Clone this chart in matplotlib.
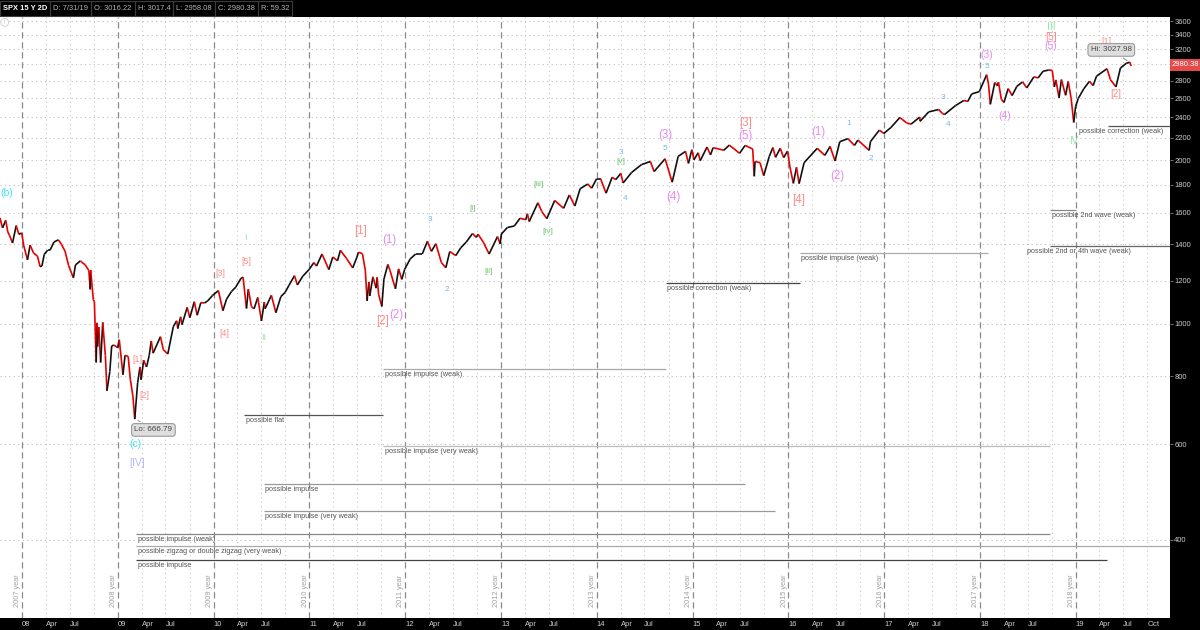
import numpy as np
import pandas as pd
import matplotlib
matplotlib.use("Agg")
import matplotlib.pyplot as plt
import matplotlib.dates as mdates
from matplotlib.collections import LineCollection
from matplotlib.patches import Rectangle
from matplotlib.ticker import NullLocator

plt.rcParams['font.family'] = ['Liberation Sans', 'DejaVu Sans']

# --- SPX swing points (2-day bars, extremes kept) ---
dates = [
    # 2007
    "2007-10-01", "2007-10-09", "2007-10-19", "2007-10-31", "2007-11-08", "2007-11-15", "2007-11-26",
    "2007-12-10", "2007-12-20", "2007-12-31",
    # 2008
    "2008-01-08", "2008-01-22", "2008-02-01", "2008-02-14", "2008-02-29", "2008-03-10", "2008-03-17",
    "2008-03-26", "2008-04-08", "2008-04-17", "2008-05-02", "2008-05-19", "2008-05-30", "2008-06-13",
    "2008-06-27", "2008-07-15", "2008-07-23", "2008-08-11", "2008-08-15", "2008-08-29", "2008-09-12",
    "2008-09-17", "2008-09-19", "2008-09-29", "2008-10-03", "2008-10-10", "2008-10-13", "2008-10-15",
    "2008-10-20", "2008-10-27", "2008-11-04", "2008-11-14", "2008-11-20", "2008-12-01", "2008-12-08",
    "2008-12-16", "2008-12-31",
    # 2009
    "2009-01-06", "2009-01-20", "2009-01-28", "2009-02-09", "2009-02-17", "2009-02-27", "2009-03-06",
    "2009-03-17", "2009-03-26", "2009-03-30", "2009-04-09", "2009-04-20", "2009-04-30", "2009-05-08",
    "2009-05-15", "2009-06-12", "2009-06-23", "2009-07-10", "2009-07-31", "2009-08-13", "2009-08-17",
    "2009-08-28", "2009-09-02", "2009-09-22", "2009-10-02", "2009-10-19", "2009-10-30", "2009-11-13",
    "2009-11-27", "2009-12-10", "2009-12-28",
    # 2010
    "2010-01-19", "2010-02-05", "2010-02-19", "2010-03-10", "2010-03-26", "2010-04-15", "2010-04-23",
    "2010-05-06", "2010-05-13", "2010-05-25", "2010-06-04", "2010-06-18", "2010-07-02", "2010-07-13",
    "2010-07-16", "2010-08-09", "2010-08-26", "2010-09-14", "2010-09-30", "2010-10-15", "2010-11-05",
    "2010-11-16", "2010-12-07", "2010-12-31",
    # 2011
    "2011-01-18", "2011-01-28", "2011-02-18", "2011-03-16", "2011-03-31", "2011-04-18", "2011-04-29",
    "2011-05-23", "2011-06-15", "2011-06-30", "2011-07-07", "2011-07-22", "2011-08-02", "2011-08-08",
    "2011-08-09", "2011-08-10", "2011-08-16", "2011-08-19", "2011-08-31", "2011-09-12", "2011-09-16",
    "2011-09-22", "2011-10-04", "2011-10-12", "2011-10-27", "2011-11-04", "2011-11-25", "2011-12-07",
    "2011-12-19", "2011-12-30",
    # 2012
    "2012-01-20", "2012-02-10", "2012-03-06", "2012-03-26", "2012-04-10", "2012-04-27", "2012-05-18",
    "2012-06-04", "2012-06-19", "2012-07-12", "2012-07-31", "2012-08-21", "2012-09-14", "2012-09-28",
    "2012-10-05", "2012-10-25", "2012-11-16", "2012-12-18", "2012-12-28",
    # 2013
    "2013-01-02", "2013-01-25", "2013-02-20", "2013-03-14", "2013-04-05", "2013-04-11", "2013-04-18",
    "2013-05-21", "2013-06-05", "2013-06-24", "2013-07-24", "2013-08-27", "2013-09-18", "2013-10-09",
    "2013-10-29", "2013-11-27", "2013-12-12", "2013-12-31",
    # 2014
    "2014-01-15", "2014-02-05", "2014-02-28", "2014-03-14", "2014-04-02", "2014-04-11", "2014-05-13",
    "2014-06-20", "2014-07-24", "2014-08-07", "2014-09-18", "2014-10-15", "2014-11-07", "2014-12-05",
    "2014-12-16", "2014-12-29",
    # 2015
    "2015-01-06", "2015-01-22", "2015-01-30", "2015-02-25", "2015-03-10", "2015-03-20", "2015-04-30",
    "2015-05-21", "2015-06-29", "2015-07-20", "2015-08-18", "2015-08-24", "2015-08-27", "2015-09-15",
    "2015-09-29", "2015-10-20", "2015-11-03", "2015-11-13", "2015-12-01", "2015-12-14", "2015-12-29",
    # 2016
    "2016-01-07", "2016-01-20", "2016-02-01", "2016-02-11", "2016-03-01", "2016-04-20", "2016-05-19",
    "2016-06-08", "2016-06-27", "2016-07-15", "2016-08-15", "2016-09-09", "2016-09-22", "2016-11-04",
    "2016-11-09", "2016-12-13", "2016-12-30",
    # 2017
    "2017-01-26", "2017-03-01", "2017-03-27", "2017-04-13", "2017-05-16", "2017-05-17", "2017-06-19",
    "2017-07-27", "2017-08-10", "2017-08-18", "2017-09-29", "2017-10-31", "2017-11-15", "2017-11-30",
    "2017-12-29",
    # 2018
    "2018-01-26", "2018-02-02", "2018-02-09", "2018-02-26", "2018-03-08", "2018-03-12", "2018-03-23",
    "2018-04-02", "2018-04-18", "2018-05-03", "2018-05-21", "2018-06-12", "2018-06-28", "2018-07-25",
    "2018-08-10", "2018-08-29", "2018-09-20", "2018-10-03", "2018-10-11", "2018-10-17", "2018-10-29",
    "2018-11-07", "2018-11-23", "2018-12-03", "2018-12-14", "2018-12-24", "2018-12-31",
    # 2019
    "2019-01-10", "2019-01-31", "2019-02-22", "2019-03-08", "2019-03-21", "2019-04-30", "2019-05-13",
    "2019-06-03", "2019-06-20", "2019-07-12", "2019-07-26", "2019-07-31",
]
prices = [
    # 2007
    1547, 1565, 1500, 1549, 1475, 1451, 1407, 1515, 1460, 1468,
    # 2008
    1390, 1310, 1395, 1349, 1331, 1273, 1276, 1341, 1365, 1365, 1413, 1426, 1400, 1360,
    1278, 1214, 1282, 1305, 1298, 1283, 1252, 1156, 1255, 1106, 1099, 848, 1003, 907,
    985, 848, 1005, 873, 752, 816, 909, 913, 903,
    # 2009
    934, 805, 874, 870, 790, 735, 667, 778, 832, 788, 856, 832, 873, 929,
    882, 946, 895, 879, 987, 1012, 979, 1029, 995, 1071, 1025, 1097, 1036, 1093,
    1091, 1102, 1127,
    # 2010
    1150, 1056, 1109, 1146, 1167, 1211, 1217, 1066, 1157, 1074, 1065, 1117, 1011, 1095,
    1065, 1127, 1047, 1121, 1141, 1176, 1225, 1178, 1223, 1258,
    # 2011
    1295, 1276, 1343, 1257, 1326, 1305, 1364, 1317, 1266, 1321, 1353, 1345, 1254, 1119,
    1101, 1121, 1193, 1124, 1219, 1162, 1216, 1130, 1075, 1207, 1285, 1253, 1159, 1261,
    1206, 1258,
    # 2012
    1315, 1343, 1343, 1417, 1358, 1403, 1295, 1267, 1357, 1334, 1379, 1413, 1465, 1441,
    1460, 1412, 1343, 1446, 1402,
    # 2013
    1462, 1503, 1512, 1563, 1553, 1593, 1541, 1669, 1608, 1560, 1685, 1630, 1725, 1646,
    1771, 1807, 1775, 1848,
    # 2014
    1848, 1738, 1859, 1841, 1890, 1815, 1897, 1962, 1988, 1905, 2011, 1821, 2032, 2075,
    1972, 2090,
    # 2015
    2002, 2063, 1995, 2114, 2044, 2108, 2085, 2131, 2058, 2128, 2096, 1867, 1988, 1978,
    1872, 2030, 2109, 2023, 2102, 2021, 2078,
    # 2016
    1943, 1812, 1939, 1810, 1978, 2102, 2040, 2119, 1992, 2162, 2190, 2128, 2177, 2084,
    2163, 2271, 2239,
    # 2017
    2296, 2395, 2341, 2329, 2400, 2357, 2453, 2478, 2438, 2425, 2519, 2575, 2564, 2647,
    2673,
    # 2018
    2872, 2762, 2533, 2779, 2738, 2783, 2588, 2553, 2708, 2629, 2733, 2786, 2716, 2846,
    2833, 2914, 2930, 2925, 2728, 2809, 2604, 2813, 2632, 2790, 2600, 2346, 2507,
    # 2019
    2596, 2704, 2793, 2743, 2855, 2946, 2812, 2728, 2954, 3014, 3028, 2980,
]
assert len(dates) == len(prices)

price_ticks = list(range(400, 3601, 200))
header = ["SPX 15 Y 2D", "D: 7/31/19", "O: 3016.22", "H: 3017.4", "L: 2958.08", "C: 2980.38", "R: 59.32"]
last_price = "2980.38"
low_label = "Lo: 666.79"
high_label = "Hi: 3027.98"

SALMON, VIOLET, BLUE = "#ff8a8a", "#e78bef", "#74b9ee"
GREEN, MINT, CYAN, LAV = "#6cc46c", "#92e6a6", "#3fe3f2", "#b7b7ff"

# wave labels: text, decimal year, price, colour, size, alignment
waves = [
    ("(b)", 2007.77, 1740, CYAN, 7.5, "left"), ("(c)", 2009.18, 601, CYAN, 7.5, "center"),
    ("[IV]", 2009.20, 554, LAV, 7.5, "center"),
    ("[1]", 2009.20, 858, SALMON, 6.3, "center"), ("[2]", 2009.28, 736, SALMON, 6.3, "center"),
    ("[3]", 2010.07, 1235, SALMON, 6.3, "center"), ("[4]", 2010.11, 958, SALMON, 6.3, "center"),
    ("[5]", 2010.34, 1299, SALMON, 6.3, "center"), ("I", 2010.33, 1438, MINT, 6.5, "center"),
    ("II", 2010.52, 941, MINT, 6.5, "center"),
    ("[1]", 2011.53, 1481, SALMON, 8.3, "center"), ("(1)", 2011.83, 1426, VIOLET, 8.3, "center"),
    ("[2]", 2011.76, 1012, SALMON, 8.3, "center"), ("(2)", 2011.91, 1038, VIOLET, 8.3, "center"),
    ("3", 2012.26, 1552, BLUE, 6, "center"), ("2", 2012.44, 1154, BLUE, 6, "center"),
    ("[i]", 2012.71, 1626, GREEN, 6, "center"), ("[ii]", 2012.87, 1245, GREEN, 6, "center"),
    ("[iii]", 2013.39, 1800, GREEN, 6, "center"), ("[iv]", 2013.49, 1475, GREEN, 6, "center"),
    ("3", 2014.25, 2062, BLUE, 6, "center"), ("[v]", 2014.25, 1984, GREEN, 6, "center"),
    ("4", 2014.29, 1697, BLUE, 6, "center"), ("(3)", 2014.71, 2225, VIOLET, 8.3, "center"),
    ("5", 2014.71, 2097, BLUE, 6, "center"), ("(4)", 2014.80, 1711, VIOLET, 8.3, "center"),
    ("[3]", 2015.55, 2341, SALMON, 8.3, "center"), ("(5)", 2015.55, 2216, VIOLET, 8.3, "center"),
    ("[4]", 2016.11, 1690, SALMON, 8.3, "center"), ("(1)", 2016.31, 2254, VIOLET, 8.3, "center"),
    ("(2)", 2016.51, 1870, VIOLET, 8.3, "center"), ("1", 2016.63, 2331, BLUE, 6, "center"),
    ("2", 2016.86, 2010, BLUE, 6, "center"), ("3", 2017.61, 2603, BLUE, 6, "center"),
    ("4", 2017.67, 2321, BLUE, 6, "center"), ("(3)", 2018.07, 3123, VIOLET, 7.5, "center"),
    ("5", 2018.07, 2968, BLUE, 6, "center"), ("(4)", 2018.26, 2411, VIOLET, 7.5, "center"),
    ("III", 2018.74, 3516, MINT, 7.5, "center"), ("[5]", 2018.74, 3371, SALMON, 7.5, "center"),
    ("(5)", 2018.74, 3244, VIOLET, 7.5, "center"), ("IV", 2018.98, 2169, MINT, 7, "center"),
    ("[1]", 2019.32, 3300, SALMON, 6.3, "center"), ("[2]", 2019.42, 2647, SALMON, 7, "center"),
]

# pattern lines: label, start, end, price, label start, colour
patterns = [
    ("possible flat", 2010.32, 2011.77, 679, 2010.32, "#555555"),
    ("possible impulse (weak)", 2011.77, 2014.72, 826, 2011.77, "#aaaaaa"),
    ("possible impulse (very weak)", 2011.77, 2018.73, 596, 2011.77, "#bbbbbb"),
    ("possible impulse", 2010.52, 2015.55, 507, 2010.52, "#999999"),
    ("possible impulse (very weak)", 2010.52, 2015.86, 452, 2010.52, "#999999"),
    ("possible impulse (weak)", 2009.19, 2018.73, 410, 2009.19, "#888888"),
    ("possible zigzag or double zigzag (very weak)", 2009.19, 2020.2, 390, 2009.19, "#aaaaaa"),
    ("possible impulse", 2009.19, 2019.33, 367, 2009.19, "#444444"),
    ("possible correction (weak)", 2014.72, 2016.12, 1188, 2014.72, "#444444"),
    ("possible impulse (weak)", 2016.12, 2018.08, 1350, 2016.12, "#aaaaaa"),
    ("possible 2nd or 4th wave (weak)", 2018.73, 2020.2, 1390, 2018.47, "#666666"),
    ("possible 2nd wave (weak)", 2018.73, 2019.0, 1619, 2018.74, "#888888"),
    ("possible correction (weak)", 2019.34, 2020.2, 2312, 2019.02, "#555555"),
]


def yr(v):
    y = int(v)
    return mdates.date2num(pd.Timestamp(y, 1, 1) + pd.Timedelta(days=(v - y) * 365.25))


fig = plt.figure(figsize=(12, 6.3), dpi=100, facecolor="black")
ax = fig.add_axes([0, 12 / 630, 1170 / 1200, 601 / 630])
ax.set_facecolor("white")
ax.set_yscale("log")
ax.set_ylim(287, 3668)
ax.set_xlim(yr(2007.77), yr(2019.983))
for s in ax.spines.values():
    s.set_visible(False)

# price line, up moves black, down moves red
x = mdates.date2num(pd.to_datetime(dates))
y = np.array(prices, dtype=float)
pts = np.column_stack([x, y])
segs = np.stack([pts[:-1], pts[1:]], axis=1)
cols = np.where(np.diff(y) >= 0, "#111111", "#e60000")
ax.add_collection(LineCollection(segs, colors=cols, linewidths=1.2, zorder=4))

# y axis on the right (3000 sits under the last-price tag)
ax.set_yticks(price_ticks)
ax.set_yticklabels(["" if v == 3000 else str(v) for v in price_ticks])
ax.yaxis.set_minor_locator(NullLocator())
ax.yaxis.tick_right()
ax.tick_params(axis="y", length=2, width=0.6, color="#888888", pad=1,
               labelsize=5.5, labelcolor="#cccccc")
ax.grid(axis="y", color="#bdbdbd", lw=0.8, ls=(0, (1, 3)), zorder=1)

# x axis: quarters
quarters = pd.date_range("2008-01-01", "2019-10-01", freq="QS")
qx = mdates.date2num(quarters)
qlabels = []
for q in quarters:
    if q.month == 1:
        qlabels.append(f"{q.year % 100:02d}")
    elif q.month == 4:
        qlabels.append("Apr")
    elif q.month == 7:
        qlabels.append("Jul")
    else:
        qlabels.append("Oct" if q.year == 2019 else "")
ax.set_xticks(qx)
ax.set_xticklabels(qlabels, ha="left")
ax.tick_params(axis="x", length=0, pad=2, labelsize=5.5, labelcolor="#cccccc")

for q, xv in zip(quarters, qx):
    if q.month == 1:
        ax.axvline(xv, color="#8a8a8a", lw=0.9, ls=(0, (5, 3)), zorder=2)
        ax.annotate(f"{q.year - 1} year", xy=(xv, 0.045), xycoords=("data", "axes fraction"),
                    xytext=(-3, 0), textcoords="offset points", rotation=90,
                    ha="center", va="center", fontsize=5.3, color="#a0a0a0")
    else:
        ax.axvline(xv, color="#c8c8c8", lw=0.8, ls=(0, (1, 3)), zorder=1)

# pattern lines
for label, x0, x1, p, lx, c in patterns:
    ax.hlines(p, yr(x0), yr(x1), color=c, lw=0.9, zorder=3)
    ax.annotate(label, xy=(yr(lx), p), xytext=(1, -1.5), textcoords="offset points",
                ha="left", va="top", fontsize=5.2, color="#555555", zorder=5)

# wave labels
for t, wx, wp, c, fs, ha in waves:
    ax.text(yr(wx), wp, t, ha=ha, va="center", fontsize=fs, color=c, zorder=6)

# low / high callouts
box = dict(boxstyle="round,pad=0.35", fc="#dedede", ec="#9a9a9a", lw=0.8)
ax.annotate(low_label, xy=(yr(2009.185), 667), xytext=(yr(2009.37), 637),
            ha="center", va="center", fontsize=5.8, color="#444444", bbox=box,
            arrowprops=dict(arrowstyle="-", color="#9a9a9a", lw=0.8), zorder=7)
ax.annotate(high_label, xy=(yr(2019.56), 3028), xytext=(yr(2019.37), 3190),
            ha="center", va="center", fontsize=5.8, color="#444444", bbox=box,
            arrowprops=dict(arrowstyle="-", color="#9a9a9a", lw=0.8), zorder=7)

# small info icon
ax.text(0.004, 0.991, "!", transform=ax.transAxes, fontsize=4, color="#bbbbbb",
        ha="center", va="center",
        bbox=dict(boxstyle="circle,pad=0.25", fc="white", ec="#cccccc", lw=0.6))

# header boxes
renderer = fig.canvas.get_renderer()
xpos = 3
for i, s in enumerate(header):
    t = fig.text(xpos / 1200, 1 - 8.5 / 630, s, ha="left", va="center", fontsize=5.4,
                 color="white" if i == 0 else "#b5b5b5",
                 fontweight="bold" if i == 0 else "normal")
    bb = t.get_window_extent(renderer)
    fig.patches.append(Rectangle(((xpos - 3) / 1200, 1 - 16 / 630), (bb.width + 6) / 1200,
                                 15 / 630, transform=fig.transFigure, fc="none",
                                 ec="#3c3c3c", lw=0.8))
    xpos = bb.x1 + 6

# last price tag
fig.text(1172 / 1200, 1 - 65 / 630, last_price, ha="left", va="center", fontsize=5.5,
         color="white", bbox=dict(boxstyle="square,pad=0.3", fc="#e34b4b", ec="none"))

fig.savefig("out.png", dpi=100, facecolor="black")
